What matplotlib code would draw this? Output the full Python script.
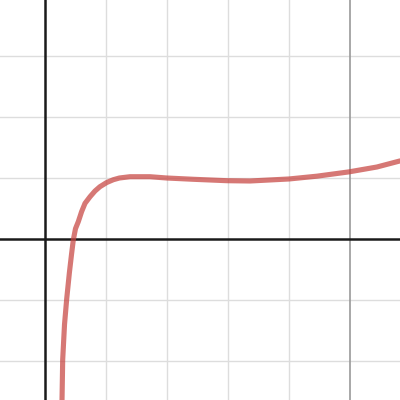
import matplotlib
matplotlib.use("Agg")
import matplotlib.pyplot as plt

# Curve points (x, y in graph units)
curve_x = [0.279, 0.29, 0.32, 0.356, 0.40, 0.435, 0.464, 0.50, 0.546, 0.60, 0.656, 0.738,
           0.82, 0.90, 1.01, 1.12, 1.22, 1.393, 1.72, 1.995, 2.43, 2.98, 3.36, 4.0,
           4.46, 4.98, 5.44, 5.82]
curve_y = [-2.64, -1.98, -1.40, -0.98, -0.55, -0.25, -0.016, 0.17, 0.284, 0.448, 0.585, 0.693,
           0.787, 0.857, 0.925, 0.972, 1.0, 1.021, 1.021, 1.0, 0.979, 0.956, 0.951, 0.984,
           1.03, 1.10, 1.18, 1.28]

minor_x = [1, 2, 3, 4]
major_x = [5]
minor_y = [-3, -2, -1, 1, 2, 3]

fig = plt.figure(figsize=(4, 4), dpi=100)
ax = fig.add_axes([0, 0, 1, 1])
ax.set_xlim(-45 / 61, 355 / 61)
ax.set_ylim(-161 / 61, 239 / 61)

for gx in minor_x:
    ax.axvline(gx, color="#dddddd", lw=1.0, zorder=1)
for gy in minor_y:
    ax.axhline(gy, color="#dddddd", lw=1.0, zorder=1)
for gx in major_x:
    ax.axvline(gx, color="#999999", lw=1.2, zorder=1)

ax.axhline(0, color="#1a1a1a", lw=1.8, zorder=2)
ax.axvline(0, color="#1a1a1a", lw=1.8, zorder=2)

ax.plot(curve_x, curve_y, color="#c74440", alpha=0.72, lw=3.7,
        solid_capstyle="round", solid_joinstyle="round", zorder=3)

ax.set_xticks([])
ax.set_yticks([])
for s in ax.spines.values():
    s.set_visible(False)

fig.savefig("out.png", dpi=100)
